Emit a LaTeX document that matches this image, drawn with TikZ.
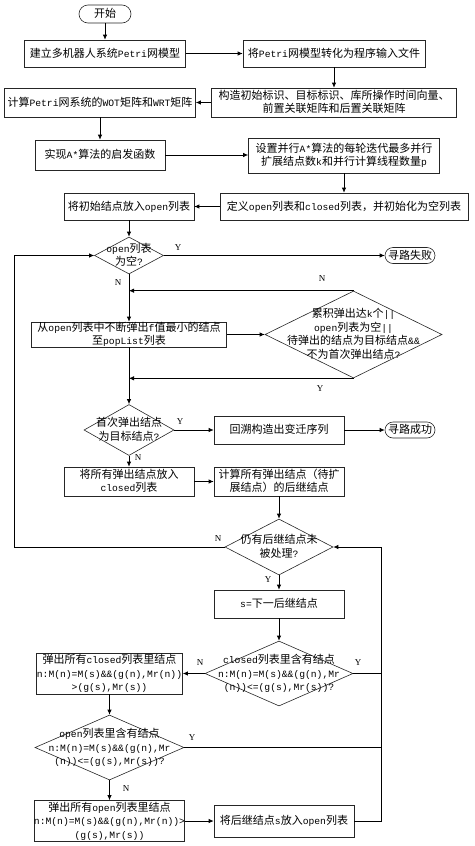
\documentclass[tikz,border=0pt]{standalone}
\usepackage{fontspec}
\setmainfont{Liberation Mono}[Scale=0.88]
\newfontfamily\latfont{Liberation Mono}[Scale=0.88]
\newfontfamily\cjkfont{Noto Sans CJK SC}
\newfontfamily\ynfont{Liberation Serif}
% CJK characters switch to the CJK font, Latin ones back to mono
\XeTeXinterchartokenstate=1
\newXeTeXintercharclass\cjkclass
\count255="3000
\loop \XeTeXcharclass\count255=\cjkclass \ifnum\count255<"9FFF \advance\count255 by 1 \repeat
\count255="FF00
\loop \XeTeXcharclass\count255=\cjkclass \ifnum\count255<"FFEF \advance\count255 by 1 \repeat
\XeTeXinterchartoks 0 \cjkclass = {\cjkfont}
\XeTeXinterchartoks 4095 \cjkclass = {\cjkfont}
\XeTeXinterchartoks \cjkclass 0 = {\latfont}
\usetikzlibrary{arrows.meta, shapes.geometric, shapes.misc}
\colorlet{lineGray}{black!85}
\newcommand{\ctext}[1]{\makebox[0pt]{\raisebox{\dimexpr(\depth-\height)/2-1pt\relax}[0pt][0pt]{\begin{tabular}{@{}c@{}}#1\end{tabular}}}}
\tikzset{
  box/.style={draw=lineGray, line width=0.6pt, rectangle, inner sep=0pt},
  dia/.style={draw=lineGray, line width=0.6pt, diamond, inner sep=0pt},
  term/.style={draw=lineGray, line width=0.6pt, rounded rectangle, inner sep=0pt},
  yn/.style={font=\ynfont\fontsize{9}{10}\selectfont},
}

\begin{document}
\begin{tikzpicture}[x=1pt, y=-1pt, font=\fontsize{11}{13.5}\selectfont,
    >={Latex[length=5pt, width=4.5pt]}, line width=0.8pt]
		\useasboundingbox (0,0) rectangle (474,846);
		%%%%%%%%%%%%%
		\node[term, minimum width=52, minimum height=18] (start) at (105, 14) {\ctext{开始}};
		\node[box, minimum width=161, minimum height=27] (b1) at (105, 53.5) {\ctext{建立多机器人系统Petri网模型}};
		\node[box, minimum width=182, minimum height=27] (b2) at (334, 53.5) {\ctext{将Petri网模型转化为程序输入文件}};
		\node[box, minimum width=245, minimum height=29] (b3) at (334, 102.5) {\ctext{构造初始标识、目标标识、库所操作时间向量、\\前置关联矩阵和后置关联矩阵}};
		\node[box, minimum width=191, minimum height=29] (b4) at (100, 102.5) {\ctext{计算Petri网系统的WOT矩阵和WRT矩阵}};
		\node[box, minimum width=130, minimum height=30] (b5) at (100, 155) {\ctext{实现A*算法的启发函数}};
		\node[box, minimum width=191, minimum height=35] (b6) at (344, 155.5) {\ctext{设置并行A*算法的每轮迭代最多并行\\扩展结点数k和并行计算线程数量p}};
		\node[box, minimum width=130, minimum height=27] (b7) at (129, 206.5) {\ctext{将初始结点放入open列表}};
		\node[box, minimum width=248, minimum height=27] (b8) at (344, 206.5) {\ctext{定义open列表和closed列表，并初始化为空列表}};
		%%%%%%%%%%%%%
		\node[dia, minimum width=69, minimum height=37] (d1) at (129, 255.5) {\ctext{open列表\\为空?}};
		\node[term, minimum width=50, minimum height=16] (fail) at (410, 255.5) {\ctext{寻路失败}};
		\node[box, minimum width=195, minimum height=25] (b9) at (129, 334.5) {\ctext{从open列表中不断弹出f值最小的结点\\至popList列表}};
		\node[dia, minimum width=177, minimum height=87] (d2) at (353.5, 334.5) {\ctext{累积弹出达k个||\\open列表为空||\\待弹出的结点为目标结点\&\&\\不为首次弹出结点?}};
		\node[dia, minimum width=90, minimum height=51] (d3) at (129, 430) {\ctext{首次弹出结点\\为目标结点?}};
		\node[box, minimum width=130, minimum height=28] (b10) at (279, 430) {\ctext{回溯构造出变迁序列}};
		\node[term, minimum width=50, minimum height=16] (succ) at (410, 430) {\ctext{寻路成功}};
		\node[box, minimum width=130, minimum height=29] (b11) at (129, 481.5) {\ctext{将所有弹出结点放入\\closed列表}};
		\node[box, minimum width=130, minimum height=29] (b12) at (279, 481.5) {\ctext{计算所有弹出结点（待扩\\展结点）的后继结点}};
		%%%%%%%%%%%%%
		\node[dia, minimum width=108, minimum height=56] (d4) at (279, 547) {\ctext{仍有后继结点未\\被处理?}};
		\node[box, minimum width=130, minimum height=28] (b13) at (279, 604) {\ctext{s=下一后继结点}};
		\node[dia, minimum width=148, minimum height=65] (d5) at (279, 673.5) {\ctext{closed列表里含有结点\\n:M(n)=M(s)\&\&(g(n),Mr\\(n))<=(g(s),Mr(s))?}};
		\node[box, minimum width=146, minimum height=41] (b14) at (109.5, 673.5) {\ctext{弹出所有closed列表里结点\\n:M(n)=M(s)\&\&(g(n),Mr(n))\\>(g(s),Mr(s))}};
		\node[dia, minimum width=149, minimum height=65] (d6) at (109.5, 747.5) {\ctext{open列表里含有结点\\n:M(n)=M(s)\&\&(g(n),Mr\\(n))<=(g(s),Mr(s))?}};
		\node[box, minimum width=150, minimum height=41] (b15) at (109.5, 821) {\ctext{弹出所有open列表里结点\\n:M(n)=M(s)\&\&(g(n),Mr(n))>\\(g(s),Mr(s))}};
		\node[box, minimum width=140, minimum height=32] (b16) at (284, 821) {\ctext{将后继结点s放入open列表}};
		%%%%%%%%%%%%%
		\node[yn] (y1) at (178, 248) {Y}; \node[yn] (n1) at (118, 283) {N};
		\node[yn] (n2) at (322, 279) {N}; \node[yn] (y2) at (320, 389) {Y};
		\node[yn] (y3) at (180, 422) {Y}; \node[yn] (n3) at (138, 458) {N};
		\node[yn] (n4) at (218, 539) {N}; \node[yn] (y4) at (268, 580) {Y};
		\node[yn] (n5) at (200, 663) {N}; \node[yn] (y5) at (358, 663) {Y};
		\node[yn] (y6) at (192, 738) {Y}; \node[yn] (n6) at (126, 789) {N};
		\coordinate (lp) at (14, 255.5);
		\coordinate (rp) at (381, 821);
		%%%%%%%%%%%%%
		\draw [->] (start) to (b1); \draw [->] (b1) to (b2);
		\draw [->] (b2) to (b3); \draw [->] (b3) to (b4);
		\draw [->] (b4) to (b5); \draw [->] (b5.east) to (b5.east -| b6.west);
		\draw [->] (b6) to (b8); \draw [->] (b8) to (b7);
		\draw [->] (b7) to (d1); \draw [->] (d1) to (fail);
		\draw [->] (d1) to (b9); \draw [->] (b9.east) to (b9.east -| d2.west);
		\draw [->] (d2.north) to (d2.north -| b9.north);
		\draw [->] (d2.south) to (d2.south -| b9.south);
		\draw [->] (b9) to (d3); \draw [->] (d3) to (b10); \draw [->] (b10) to (succ);
		\draw [->] (d3) to (b11); \draw [->] (b11) to (b12);
		\draw [->] (b12) to (d4);
		\draw [->] (d4.west) -| (lp) -- (d1.west);
		\draw [->] (d4) to (b13); \draw [->] (b13) to (d5);
		\draw [->] (d5) to (b14); \draw [->] (b14) to (d6);
		\draw [->] (d6) to (b15); \draw [->] (b15) to (b16);
		\draw (d5.east) -- (d5.east -| rp); \draw (d6.east) -- (d6.east -| rp);
		\draw [->] (b16.east) -- (rp) |- (d4.east);
\end{tikzpicture}
\end{document}
